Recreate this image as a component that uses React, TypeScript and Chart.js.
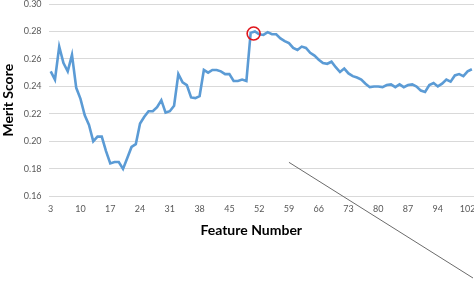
import React, { useEffect, useRef } from "react";
import { Chart, registerables } from "chart.js";

Chart.register(...registerables);

const featureNumbers: number[] = [
  3, 4, 5, 6, 7, 8, 9, 10, 11, 12, 13, 14, 15, 16, 17, 18, 19, 20, 21, 22,
  23, 24, 25, 26, 27, 28, 29, 30, 31, 32, 33, 34, 35, 36, 37, 38, 39, 40, 41, 42,
  43, 44, 45, 46, 47, 48, 49, 50, 51, 52, 53, 54, 55, 56, 57, 58, 59, 60, 61, 62,
  63, 64, 65, 66, 67, 68, 69, 70, 71, 72, 73, 74, 75, 76, 77, 78, 79, 80, 81, 82,
  83, 84, 85, 86, 87, 88, 89, 90, 91, 92, 93, 94, 95, 96, 97, 98, 99, 100, 101, 102,
];

const meritScores: number[] = [
  0.251, 0.245, 0.269, 0.257, 0.251, 0.263, 0.239, 0.231, 0.219, 0.212,
  0.2, 0.2035, 0.2035, 0.193, 0.184, 0.185, 0.185, 0.18, 0.188, 0.196,
  0.198, 0.213, 0.218, 0.222, 0.222, 0.225, 0.23, 0.221, 0.222, 0.226,
  0.249, 0.243, 0.241, 0.232, 0.2315, 0.233, 0.252, 0.25, 0.252, 0.252,
  0.251, 0.249, 0.249, 0.244, 0.244, 0.245, 0.244, 0.279, 0.28, 0.278,
  0.2775, 0.2795, 0.278, 0.278, 0.275, 0.273, 0.2715, 0.268, 0.2665, 0.269,
  0.268, 0.2645, 0.2625, 0.2595, 0.257, 0.2565, 0.258, 0.254, 0.2505, 0.253,
  0.2495, 0.2475, 0.2465, 0.245, 0.242, 0.2395, 0.24, 0.24, 0.2395, 0.241,
  0.2415, 0.2395, 0.2415, 0.2395, 0.241, 0.2415, 0.24, 0.237, 0.236, 0.241,
  0.2425, 0.24, 0.242, 0.245, 0.2435, 0.248, 0.249, 0.2475, 0.251, 0.2525,
];

const xTickLabels: string[] = [
  "3", "10", "17", "24", "31", "38", "45", "52", "59", "66", "73", "80", "87", "94", "102",
];
const xTickEvery = 7;

const yMin = 0.16;
const yMax = 0.3;
const yStep = 0.02;

// Annotation anchors (data space)
const highlightIndex = 47.7;
const highlightValue = 0.2785;
const pointerStartIndex = 56;
const pointerStartValue = 0.1848;

const annotationPlugin = {
  id: "annotations",
  afterDatasetsDraw(chart: any) {
    const { ctx } = chart;
    const xs = chart.scales.x;
    const ys = chart.scales.y;
    ctx.save();
    const cx = xs.getPixelForValue(highlightIndex);
    const cy = ys.getPixelForValue(highlightValue);
    ctx.beginPath();
    ctx.arc(cx, cy, 6.5, 0, Math.PI * 2);
    ctx.strokeStyle = "#e0151b";
    ctx.lineWidth = 1.6;
    ctx.stroke();
    const sx = xs.getPixelForValue(pointerStartIndex);
    const sy = ys.getPixelForValue(pointerStartValue);
    ctx.beginPath();
    ctx.moveTo(sx, sy);
    ctx.lineTo(chart.width - 1, chart.height - 3);
    ctx.strokeStyle = "#6b6b6b";
    ctx.lineWidth = 1;
    ctx.stroke();
    ctx.restore();
  },
};

export default function App() {
  const ref = useRef<HTMLCanvasElement | null>(null);

  useEffect(() => {
    if (!ref.current) return;
    const chart = new Chart(ref.current, {
      type: "line",
      data: {
        labels: featureNumbers.map(String),
        datasets: [
          {
            data: meritScores,
            borderColor: "#5b9bd5",
            borderWidth: 2.6,
            pointRadius: 0,
            tension: 0,
            fill: false,
          },
        ],
      },
      options: {
        animation: false,
        responsive: false,
        layout: { padding: { left: 0, right: 0, top: 4, bottom: 42 } },
        plugins: {
          legend: { display: false },
          tooltip: { enabled: false },
        },
        scales: {
          x: {
            offset: true,
            grid: { display: false, drawTicks: false },
            border: { display: false },
            ticks: {
              autoSkip: false,
              maxRotation: 0,
              minRotation: 0,
              padding: 7,
              color: "#595959",
              font: { family: "Lato", size: 9 },
              callback: (_v: any, i: number) =>
                i % xTickEvery === 0 ? xTickLabels[i / xTickEvery] : null,
            },
            title: {
              display: true,
              text: "Feature Number\u00a0\u00a0\u00a0\u00a0\u00a0\u00a0",
              color: "#000000",
              font: { family: "Lato", size: 14, weight: "bold" },
              padding: { top: 1, bottom: 0 },
            },
            afterFit: (scale: any) => {
              scale.paddingRight = 0;
            },
          },
          y: {
            min: yMin,
            max: yMax,
            grid: { color: "#d9d9d9", drawTicks: false, lineWidth: 1 },
            border: { display: false },
            ticks: {
              stepSize: yStep,
              padding: 7,
              color: "#595959",
              font: { family: "Lato", size: 9 },
              callback: (v: any) => Number(v).toFixed(2),
            },
            title: {
              display: true,
              text: "Merit Score",
              color: "#000000",
              font: { family: "Lato", size: 14, weight: "bold" },
              padding: { top: 0, bottom: 0 },
            },
            afterFit: (scale: any) => {
              scale.paddingTop = 0;
              scale.paddingBottom = 0;
            },
          },
        },
      },
      plugins: [annotationPlugin],
    });
    return () => chart.destroy();
  }, []);

  return (
    <div
      style={{
        position: "fixed",
        left: 0,
        top: 0,
        width: 474,
        height: 281,
        overflow: "hidden",
        background: "#ffffff",
      }}
    >
      <canvas ref={ref} width={474} height={281} style={{ display: "block" }} />
    </div>
  );
}
